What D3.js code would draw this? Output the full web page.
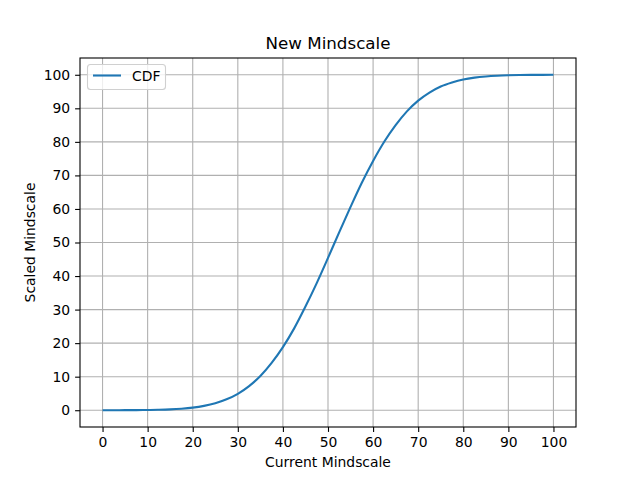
<!DOCTYPE html>
<html>
<head>
<meta charset="utf-8">
<script src="https://cdn.jsdelivr.net/npm/d3@7"></script>
<style>
	body { margin: 0; background: #fff; }
	text { font-family: 'DejaVu Sans', sans-serif; }
</style>
</head>
<body>
<svg id="chart" width="640" height="480"></svg>
<script>
// values
let current = [0, 2.5, 5, 7.5, 10, 12.5, 15, 17.5, 20, 22.5, 25, 27.5, 30, 32.5, 35, 37.5,
	40, 42.5, 45, 47.5, 50, 52.5, 55, 57.5, 60, 62.5, 65, 67.5, 70, 72.5, 75, 77.5,
	80, 82.5, 85, 87.5, 90, 92.5, 95, 97.5, 100]
let scaled = [0.004, 0.008, 0.017, 0.036, 0.07, 0.135, 0.25, 0.45, 0.77, 1.29, 2.07, 3.25, 4.9, 7.2, 10.2, 14.1,
	18.8, 24.4, 30.9, 37.9, 45.4, 53.1, 60.6, 67.8, 74.3, 80.1, 85.0, 89.1, 92.3, 94.7, 96.5, 97.7,
	98.6, 99.15, 99.5, 99.72, 99.85, 99.92, 99.96, 99.98, 99.99]
let xTicks = d3.range(0, 101, 10)
let yTicks = d3.range(0, 101, 10)

const svg = d3.select('#chart')
const mLeft = 80, mRight = 576, mTop = 58, mBottom = 427

const x = d3.scaleLinear().domain([-5, 105]).range([mLeft, mRight])
const y = d3.scaleLinear().domain([-5, 105]).range([mBottom, mTop])

svg.append('rect')
	.attr('width', 640).attr('height', 480).attr('fill', '#fff')

// grid
svg.append('g').selectAll('line')
	.data(xTicks).enter().append('line')
	.attr('x1', d => x(d)).attr('x2', d => x(d))
	.attr('y1', mTop).attr('y2', mBottom)
	.attr('stroke', '#b0b0b0').attr('stroke-width', 1.1)
svg.append('g').selectAll('line')
	.data(yTicks).enter().append('line')
	.attr('y1', d => y(d)).attr('y2', d => y(d))
	.attr('x1', mLeft).attr('x2', mRight)
	.attr('stroke', '#b0b0b0').attr('stroke-width', 1.1)

const line = d3.line()
	.x((d, i) => x(current[i]))
	.y(d => y(d))
	.curve(d3.curveMonotoneX)

svg.append('path')
	.datum(scaled)
	.attr('d', line)
	.attr('fill', 'none')
	.attr('stroke', '#1f77b4')
	.attr('stroke-width', 2.1)

// axes
const xAxis = svg.append('g')
	.attr('transform', `translate(0,${mBottom})`)
	.call(d3.axisBottom(x).tickValues(xTicks).tickSize(4.9).tickPadding(4.9))
const yAxis = svg.append('g')
	.attr('transform', `translate(${mLeft},0)`)
	.call(d3.axisLeft(y).tickValues(yTicks).tickSize(4.9).tickPadding(4.9))

;[xAxis, yAxis].forEach(a => {
	a.select('.domain').remove()
	a.selectAll('text').attr('font-size', 13.9).attr('fill', '#000')
		.style('font-family', 'DejaVu Sans')
	a.selectAll('line').attr('stroke', '#000').attr('stroke-width', 1.1)
})

svg.append('rect')
	.attr('x', mLeft).attr('y', mTop)
	.attr('width', mRight - mLeft).attr('height', mBottom - mTop)
	.attr('fill', 'none').attr('stroke', '#000').attr('stroke-width', 1.1)

// titles
svg.append('text')
	.attr('x', (mLeft + mRight) / 2).attr('y', 49)
	.attr('text-anchor', 'middle').attr('font-size', 16.7)
	.text('New Mindscale')
svg.append('text')
	.attr('x', (mLeft + mRight) / 2).attr('y', 467)
	.attr('text-anchor', 'middle').attr('font-size', 13.9)
	.text('Current Mindscale')
svg.append('text')
	.attr('transform', `translate(35,${(mTop + mBottom) / 2}) rotate(-90)`)
	.attr('text-anchor', 'middle').attr('font-size', 13.9)
	.text('Scaled Mindscale')

// legend
const legend = svg.append('g')
legend.append('rect')
	.attr('x', 87.5).attr('y', 64.5).attr('width', 78).attr('height', 25).attr('rx', 3)
	.attr('fill', '#fff').attr('fill-opacity', 0.8)
	.attr('stroke', '#d0d0d0').attr('stroke-width', 1.1)
legend.append('line')
	.attr('x1', 93).attr('x2', 121).attr('y1', 75.5).attr('y2', 75.5)
	.attr('stroke', '#1f77b4').attr('stroke-width', 2.1)
legend.append('text')
	.attr('x', 132).attr('y', 80.5).attr('font-size', 13.9)
	.text('CDF')
</script>
</body>
</html>
